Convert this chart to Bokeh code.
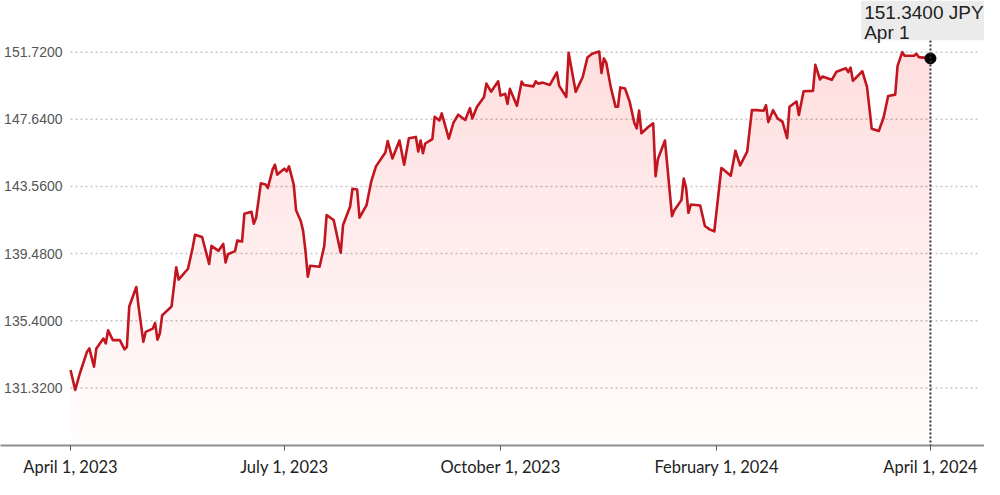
import numpy as np
import pandas as pd
from bokeh.plotting import figure
from bokeh.models import (Range1d, FixedTicker, PrintfTickFormatter, LinearAxis,
                          Span, BoxAnnotation, Label)
from bokeh.embed import file_html
from bokeh.resources import INLINE

# ---------------- data ----------------
start_date = "2023-04-01"
days = [0, 2, 4, 7, 8, 10, 11, 14, 15, 16,
        18, 21, 23, 24, 25, 28, 29, 31, 32, 35,
        36, 37, 38, 39, 43, 45, 46, 50, 52, 53,
        56, 59, 60, 63, 65, 66, 67, 70, 71, 73,
        74, 77, 78, 79, 81, 83, 84, 86, 87, 88,
        91, 92, 93, 95, 96, 98, 99, 100, 101, 102,
        106, 108, 109, 112, 115, 116, 119, 120, 122, 123,
        126, 128, 130, 134, 135, 137, 140, 142, 144, 147,
        148, 149, 150, 151, 154, 155, 157, 158, 161, 163,
        165, 168, 170, 171, 173, 176, 177, 179, 182, 183,
        185, 186, 187, 190, 192, 193, 197, 198, 199, 201,
        204, 207, 208, 211, 212, 215, 218, 220, 222, 225,
        226, 227, 228, 230, 232, 233, 234, 236, 238, 240,
        241, 242, 243, 246, 248, 249, 250, 253, 256, 257,
        260, 261, 262, 263, 264, 268, 270, 272, 274, 277,
        278, 281, 283, 285, 288, 290, 292, 295, 296, 297,
        299, 301, 303, 305, 306, 309, 310, 312, 316, 317,
        319, 320, 324, 326, 330, 331, 332, 333, 337, 339,
        341, 344, 346, 348, 351, 352, 354, 355, 359, 360,
        361, 363, 366]
values = [132.41, 131.20, 132.21, 133.51, 133.72, 132.61, 133.72, 134.32, 134.02, 134.82,
          134.22, 134.22, 133.66, 133.81, 136.27, 137.45, 136.23, 134.12, 134.72, 134.92,
          135.27, 134.25, 134.62, 135.73, 136.27, 138.65, 137.90, 138.56, 139.85, 140.62,
          140.49, 138.85, 139.95, 139.65, 140.07, 138.94, 139.44, 139.63, 140.28, 140.21,
          141.90, 142.02, 141.30, 141.66, 143.75, 143.68, 143.47, 144.58, 144.88, 144.28,
          144.64, 144.48, 144.78, 143.68, 142.11, 141.46, 140.86, 139.65, 138.08, 138.74,
          138.68, 139.95, 141.82, 141.52, 139.53, 141.22, 142.34, 143.42, 143.37, 141.66,
          142.43, 143.87, 144.78, 145.62, 146.32, 145.26, 146.35, 144.88, 146.49, 146.57,
          145.68, 146.35, 145.58, 146.17, 146.44, 147.80, 147.57, 148.00, 146.47, 147.44,
          147.92, 147.60, 148.32, 147.69, 148.40, 149.00, 149.81, 149.32, 149.95, 149.08,
          149.19, 148.58, 149.49, 148.46, 149.93, 149.73, 149.64, 149.95, 149.81, 149.87,
          149.73, 150.49, 149.67, 149.00, 151.68, 149.31, 150.21, 151.39, 151.62, 151.76,
          150.45, 151.34, 151.09, 149.55, 148.40, 148.40, 149.58, 149.51, 148.70, 147.40,
          147.09, 148.17, 146.79, 147.19, 147.39, 144.18, 145.23, 146.35, 141.76, 142.12,
          142.73, 144.04, 143.47, 141.96, 142.46, 142.40, 141.16, 140.95, 140.83, 144.68,
          144.58, 144.21, 145.73, 144.84, 145.68, 148.20, 148.20, 148.16, 148.50, 147.47,
          148.20, 147.68, 147.50, 146.49, 148.40, 148.72, 147.90, 149.35, 149.37, 150.95,
          150.06, 150.24, 150.04, 150.53, 150.74, 150.51, 150.78, 149.98, 150.56, 149.61,
          147.07, 146.93, 147.72, 149.06, 149.14, 150.89, 151.72, 151.50, 151.50, 151.62,
          151.42, 151.39, 151.34]

y_ticks = [131.32, 135.40, 139.48, 143.56, 147.64, 151.72]
x_tick_dates = ["2023-04-01", "2023-07-01", "2023-10-01", "2024-01-01", "2024-04-01"]
x_tick_labels = ["April 1, 2023", "July 1, 2023", "October 1, 2023",
                 "February 1, 2024", "April 1, 2024"]
tooltip_value = "151.3400 JPY"
tooltip_date = "Apr 1"

# ---------------- helpers ----------------
DAY = 86400000.0


def ms(ts):
    return pd.Timestamp(ts).value / 1e6


dates = pd.Timestamp(start_date) + pd.to_timedelta(days, unit="D")
vals = np.array(values)
t0 = ms(x_tick_dates[0])
t1 = ms(x_tick_dates[-1])
last_ms = ms(dates[-1])

y0, y1 = 127.82, 154.86

p = figure(width=984, height=479, x_axis_type="datetime", y_axis_location=None,
           output_backend="svg", toolbar_location=None,
           x_range=Range1d(t0 - 29.8 * DAY, t1 + 23.0 * DAY),
           y_range=Range1d(y0, y1),
           min_border_left=0, min_border_right=0, min_border_top=0,
           min_border_bottom=31)
p.outline_line_color = None
p.background_fill_color = "white"
p.border_fill_color = "white"
p.grid.visible = False

# dotted horizontal gridlines
p.segment(x0=[t0] * len(y_ticks), x1=[t1 + 20.0 * DAY] * len(y_ticks),
          y0=y_ticks, y1=y_ticks, line_color="#c6c6c6", line_width=1.5,
          line_dash="2 3")

# gradient fill under the line (stacked translucent layers)
p.varea(x=dates, y1=np.full(len(vals), y0), y2=vals,
        fill_color="#e03c46", fill_alpha=0.012)
for lv in np.linspace(y0, 152.0, 32):
    p.varea(x=dates, y1=np.minimum(lv, vals), y2=vals,
            fill_color="#e03c46", fill_alpha=0.0024)

# the line
p.line(x=dates, y=vals, line_color="#c1161f", line_width=2.6, line_join="round")

# hover marker
p.add_layout(Span(location=last_ms, dimension="height", line_color="#333333",
                  line_dash="2 2", line_width=2))
p.scatter(x=[dates[-1]], y=[vals[-1]], size=11, color="black")

# tooltip box
p.add_layout(BoxAnnotation(left=t0 + 336.5 * DAY, bottom=152.44,
                           fill_color="#ebebeb", fill_alpha=1.0, line_color=None))
p.add_layout(Label(x=t0 + 337.8 * DAY, y=154.78, text=tooltip_value,
                   text_baseline="top", text_font="Liberation Sans",
                   text_font_size="19px", text_color="#222222"))
p.add_layout(Label(x=t0 + 337.8 * DAY, y=153.55, text=tooltip_date,
                   text_baseline="top", text_font="Liberation Sans",
                   text_font_size="19px", text_color="#222222"))

# y axis, placed inside the frame at the start date
yaxis = LinearAxis(fixed_location=t0, ticker=FixedTicker(ticks=y_ticks),
                   formatter=PrintfTickFormatter(format="%.4f"))
yaxis.axis_line_color = None
yaxis.major_tick_line_color = None
yaxis.minor_tick_line_color = None
yaxis.major_tick_out = 0
yaxis.major_tick_in = 0
yaxis.major_label_standoff = 8
yaxis.major_label_text_font = "Liberation Sans"
yaxis.major_label_text_font_size = "14px"
yaxis.major_label_text_color = "#555555"
p.add_layout(yaxis, "left")

# x axis
xa = p.xaxis[0]
xa.ticker = FixedTicker(ticks=[ms(d) for d in x_tick_dates])
xa.major_label_overrides = {ms(d): lab for d, lab in zip(x_tick_dates, x_tick_labels)}
xa.axis_line_color = "#8e8e8e"
xa.axis_line_width = 2
xa.major_tick_line_color = "#555555"
xa.major_tick_out = 5
xa.major_tick_in = 0
xa.minor_tick_line_color = None
xa.major_label_standoff = 6
xa.major_label_text_font = "Lato"
xa.major_label_text_font_size = "16.5px"
xa.major_label_text_color = "#222222"

open("out.html", "w").write(file_html(p, INLINE))
